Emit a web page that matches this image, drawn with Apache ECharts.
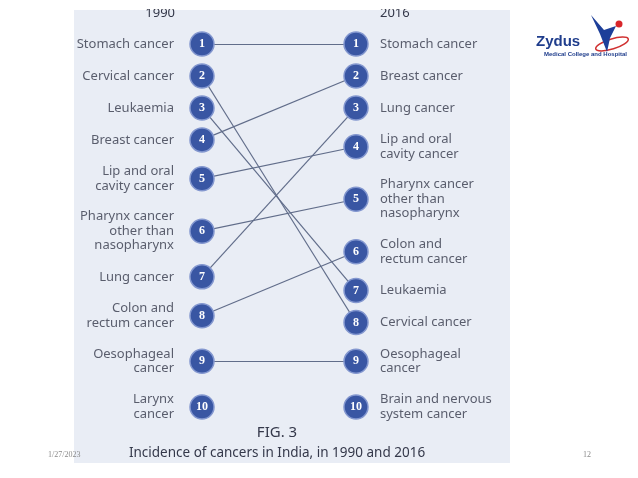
<!DOCTYPE html>
<html>
<head>
<meta charset="utf-8" />
<title>Incidence of cancers in India</title>
<script src="https://cdn.jsdelivr.net/npm/echarts@6/dist/echarts.min.js"></script>
<style>
  html, body { margin: 0; padding: 0; background: #ffffff; }
  #chart { width: 638px; height: 478px; }
</style>
</head>
<body>
<div id="chart"></div>
<script>
// cancer ranks, 1990 (left column) and 2016 (right column)
var names1990 = ['Stomach cancer', 'Cervical cancer', 'Leukaemia', 'Breast cancer',
  'Lip and oral\ncavity cancer', 'Pharynx cancer\nother than\nnasopharynx', 'Lung cancer',
  'Colon and\nrectum cancer', 'Oesophageal\ncancer', 'Larynx\ncancer'];
var names2016 = ['Stomach cancer', 'Breast cancer', 'Lung cancer', 'Lip and oral\ncavity cancer',
  'Pharynx cancer\nother than\nnasopharynx', 'Colon and\nrectum cancer', 'Leukaemia',
  'Cervical cancer', 'Oesophageal\ncancer', 'Brain and nervous\nsystem cancer'];
var ranks = [1, 2, 3, 4, 5, 6, 7, 8, 9, 10];
var years = ['1990', '2016'];
var caption = 'FIG. 3';
var subCaption = 'Incidence of cancers in India, in 1990 and 2016';

// slot of each rank: spacing grows with the number of text lines of the labels
function slots(names) {
  var pos = [0];
  for (var i = 1; i < names.length; i++) {
    var a = names[i - 1].split('\n').length, b = names[i].split('\n').length;
    pos.push(pos[i - 1] + 18 + 13.5 * (a + b) / 2);
  }
  var last = pos[pos.length - 1];
  return pos.map(function (p) { return p / last; });
}
var yLeft = slots(names1990);
var yRight = slots(names2016);

var links = [];
names1990.forEach(function (n, i) {
  var j = names2016.indexOf(n);
  if (j >= 0) links.push({ coords: [[0, yLeft[i]], [1, yRight[j]]] });
});

var textFont = '"Noto Sans", sans-serif';
var textColor = '#34384a';

var circleStyle = {
  type: 'scatter', symbolSize: 24, z: 5,
  itemStyle: { color: '#3956a3', borderColor: '#8397cf', borderWidth: 1.5, opacity: 1 },
  label: {
    show: true, position: 'inside', color: '#ffffff',
    fontFamily: '"Liberation Serif", serif', fontWeight: 'bold', fontSize: 12,
    formatter: function (p) { return p.value[2]; }
  }
};

function nameSeries(x, ys, names, side) {
  return {
    type: 'scatter', symbolSize: 0, z: 6,
    data: ys.map(function (y, i) { return { value: [x, y], name: names[i] }; }),
    label: {
      show: true, position: side, distance: side === 'left' ? 28 : 24,
      formatter: '{b}', color: textColor, fontFamily: textFont,
      fontSize: 13, lineHeight: 14.5
    }
  };
}

var chart = echarts.init(document.getElementById('chart'), null, { renderer: 'canvas' });
chart.setOption({
  animation: false,
  backgroundColor: '#ffffff',
  grid: { left: 202, right: 282, top: 44, bottom: 71 },
  xAxis: { type: 'value', min: 0, max: 1, show: false },
  yAxis: { type: 'value', min: 0, max: 1, inverse: true, show: false },
  graphic: [
    { type: 'rect', z: -10, shape: { x: 74, y: 10, width: 436, height: 453 },
      style: { fill: '#e9edf5' } },
    { type: 'text', x: 175, y: 13, z: 10,
      style: { text: years[0], align: 'right', verticalAlign: 'middle', fill: textColor,
        font: '13px "Noto Sans", sans-serif' } },
    { type: 'text', x: 380, y: 13, z: 10,
      style: { text: years[1], align: 'left', verticalAlign: 'middle', fill: textColor,
        font: '13px "Noto Sans", sans-serif' } },
    // clip the top of the scanned figure
    { type: 'rect', z: 20, shape: { x: 0, y: 0, width: 520, height: 9 },
      style: { fill: '#ffffff' } },
    { type: 'text', x: 277, y: 433, z: 10,
      style: { text: caption, align: 'center', verticalAlign: 'middle', fill: textColor,
        font: '15px "Noto Sans", sans-serif' } },
    { type: 'text', x: 277, y: 453, z: 10,
      style: { text: subCaption, align: 'center', verticalAlign: 'middle', fill: textColor,
        font: '13.5px "Noto Sans", sans-serif' } },
    { type: 'text', x: 48, y: 455, z: 10,
      style: { text: '1/27/2023', align: 'left', verticalAlign: 'middle', fill: '#8a8a8a',
        font: '8px "Liberation Serif", serif' } },
    { type: 'text', x: 587, y: 455, z: 10,
      style: { text: '12', align: 'center', verticalAlign: 'middle', fill: '#8a8a8a',
        font: '8px "Liberation Serif", serif' } },
    // logo
    { type: 'text', x: 536, y: 42, z: 10,
      style: { text: 'Zydus', align: 'left', verticalAlign: 'middle', fill: '#1f3d8c',
        font: 'bold 15px "Liberation Sans", sans-serif' } },
    { type: 'text', x: 544, y: 54, z: 10,
      style: { text: 'Medical College and Hospital', align: 'left', verticalAlign: 'middle',
        fill: '#1f3d8c', font: 'bold 6px "Liberation Sans Narrow", sans-serif' } },
    { type: 'ellipse', z: 9, shape: { cx: 612, cy: 44, rx: 17, ry: 5 },
      style: { fill: 'none', stroke: '#d03030', lineWidth: 1.5 }, rotation: 0.3, originX: 612, originY: 44 },
    { type: 'polygon', z: 10,
      shape: { points: [[591, 15], [604, 30], [616, 26], [610, 38], [607, 52], [600, 34]] },
      style: { fill: '#1d3f99' } },
    { type: 'circle', z: 11, shape: { cx: 619, cy: 24, r: 3.5 }, style: { fill: '#d8262b' } }
  ],
  series: [
    {
      type: 'lines', coordinateSystem: 'cartesian2d', z: 2,
      lineStyle: { color: '#616d8a', width: 1.2, opacity: 1 },
      data: links
    },
    Object.assign({}, circleStyle, {
      data: yLeft.map(function (y, i) { return [0, y, ranks[i]]; })
    }),
    Object.assign({}, circleStyle, {
      data: yRight.map(function (y, i) { return [1, y, ranks[i]]; })
    }),
    nameSeries(0, yLeft, names1990, 'left'),
    nameSeries(1, yRight, names2016, 'right')
  ]
});
</script>
</body>
</html>
